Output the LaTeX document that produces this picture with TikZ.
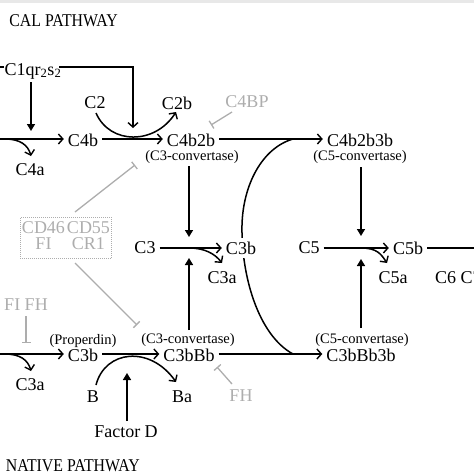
\documentclass[tikz,border=0pt]{standalone}
\usepackage{fontspec}
\setmainfont{Liberation Serif}
\usetikzlibrary{arrows.meta}
\definecolor{inh}{HTML}{ADADAD}
\tikzset{
  lbl/.style={font=\fontsize{18}{19}\selectfont, inner xsep=4pt, inner ysep=0.5pt},
  glbl/.style={lbl, text=inh},
  small/.style={font=\fontsize{14.5}{16}\selectfont, inner sep=0pt},
  head/.style={font=\fontsize{18}{20}\selectfont, inner sep=0pt},
  ln/.style={line width=1.5pt},
  barb/.style={ln, -{Straight Barb[length=4.5pt,width=10pt,line width=1.4pt]}},
  tri/.style={ln, -{Triangle[length=7pt,width=8pt]}},
  blocker/.style={draw=inh, line width=1.3pt, -{Bar[width=9pt,line width=1.3pt]}},
}
\begin{document}
\begin{tikzpicture}[x=1pt,y=-1pt]
\useasboundingbox (0,0) rectangle (474,474);
\fill[black!9] (0,0) rectangle (474,2.5);

% big arc (drawn first so that C3b covers it)
\coordinate (arcT) at (293,139);
\coordinate (arcM) at (242,225);
\coordinate (arcB) at (293,354);
\draw[ln] (arcT) .. controls (262,148) and (243,185) .. (arcM)
           .. controls (241,275) and (258,335) .. (arcB);

% headings
\node[head, anchor=base east] (hcl) at (118,26) {\scalebox{0.88}[1]{CAL PATHWAY}};
\node[head, anchor=base east] (halt) at (140,471) {\scalebox{0.88}[1]{NATIVE PATHWAY}};

% ---------- row 1 ----------
\node[lbl, inner xsep=0pt] (c1q) at (33,71) {C1qr\textsubscript{2}s\textsubscript{2}};
\node[lbl] (c4b) at (83,140) {C4b};
\node[lbl] (c4a) at (30,170) {C4a};
\node[lbl] (c2) at (95,103) {C2};
\node[lbl] (c2b) at (177,103) {C2b};
\node[lbl, inner ysep=0pt] (c4b2b) at (191,140) {C4b2b};
\node[small] (conv1) at (192,157.5) {(C3-convertase)};
\node[glbl] (c4bp) at (247,102) {C4BP};
\node[lbl, inner ysep=0pt] (c4b2b3b) at (360,140) {C4b2b3b};
\node[small] (conv2) at (360,157.5) {(C5-convertase)};

\coordinate (stubA) at (-2,67);
\coordinate (stubB) at (3.5,67);
\draw[ln] (stubA) -- (stubB);
\coordinate (c1qR) at (59,67);
\coordinate (tipA) at (133,128);
\draw[barb] (c1qR) -| (tipA);
\coordinate (c1qD) at (31,82);
\coordinate (tipB) at (31,131);
\draw[tri] (c1qD) -- (tipB);

\coordinate (r1L) at (-2,139);
\draw[barb] (r1L) -- (c4b.west |- r1L);
\coordinate (r1s) at (5,139);
\coordinate (r1t) at (31,156);
\draw[barb] (r1s) .. controls (20,139) and (28,145) .. (r1t);

\coordinate (c2s) at (96,113);
\coordinate (c2t) at (176,112);
\draw[barb] (c2s) .. controls (110,145) and (155,145) .. (c2t);
\draw[barb] (c4b.east |- r1L) -- (c4b2b.west |- r1L);
\coordinate (c4bpA) at (232,112);
\coordinate (c4bpB) at (211,125);
\draw[blocker] (c4bpA) -- (c4bpB);
\draw[barb] (c4b2b.east |- r1L) -- (c4b2b3b.west |- r1L);

% ---------- row 2 ----------
\node[lbl] (c3) at (145,248) {C3};
\node[lbl, fill=white, inner ysep=4pt] (c3b) at (241,248) {C3b};
\node[lbl] (c3a) at (222,278) {C3a};
\node[lbl] (c5) at (309,248) {C5};
\node[lbl] (c5b) at (408,248) {C5b};
\node[lbl] (c5a) at (393,278) {C5a};
\node[lbl, anchor=west, inner xsep=0pt] (c6) at (435,278) {C6 C7};

\coordinate (r2) at (0,248);
\draw[barb] (c3.east |- r2) -- (c3b.west |- r2);
\coordinate (j3) at (189,248);
\coordinate (c3at) at (222,263);
\draw[barb] (j3) .. controls (205,248) and (215,254) .. (c3at);
\draw[barb] (c5.east |- r2) -- (c5b.west |- r2);
\coordinate (j5) at (361,248);
\coordinate (c5at) at (387,263);
\draw[barb] (j5) .. controls (377,248) and (381,254) .. (c5at);
\coordinate (r2R) at (480,248);
\draw[ln] (c5b.east |- r2) -- (r2R);

\coordinate (v3a) at (189,166);
\coordinate (v3b) at (189,237);
\draw[tri] (v3a) -- (v3b);
\coordinate (v3c) at (189,330);
\coordinate (v3d) at (189,258);
\draw[tri] (v3c) -- (v3d);
\coordinate (v5a) at (361,167);
\coordinate (v5b) at (361,236);
\draw[tri] (v5a) -- (v5b);
\coordinate (v5c) at (361,328);
\coordinate (v5d) at (361,259);
\draw[tri] (v5c) -- (v5d);

% regulators box
\node[draw=inh, densely dotted, line width=1pt, text=inh, inner sep=1.5pt,
      font=\fontsize{18}{15}\selectfont, minimum width=91pt, minimum height=41pt]
  (reg) at (66,238) {\begin{tabular}{@{}c@{\hspace{2pt}}c@{}}CD46&CD55\\FI&CR1\end{tabular}};
\coordinate (regT) at (75,212);
\coordinate (regTt) at (135,165);
\draw[blocker] (regT) -- (regTt);
\coordinate (regB) at (75,263);
\coordinate (regBt) at (137,325);
\draw[blocker] (regB) -- (regBt);

% ---------- row 3 ----------
\node[glbl] (fifh) at (26,305) {FI FH};
\node[lbl] (c3bL) at (83,355) {C3b};
\node[small] (prop) at (83,341) {(Properdin)};
\node[lbl] (c3aL) at (30,385) {C3a};
\node[lbl] (c3bbb) at (189,355) {C3bBb};
\node[small] (conv3) at (188,340) {(C3-convertase)};
\node[lbl] (bnode) at (93,397) {B};
\node[lbl] (ba) at (182,397) {Ba};
\node[lbl] (fd) at (126,432) {Factor D};
\node[lbl] (c3bbb3b) at (361,355) {C3bBb3b};
\node[small] (conv4) at (362,340) {(C5-convertase)};
\node[glbl] (fh) at (241,396) {FH};

\coordinate (r3L) at (-2,354);
\draw[barb] (r3L) -- (c3bL.west |- r3L);
\coordinate (r3s) at (5,354);
\coordinate (r3t) at (31,371);
\draw[barb] (r3s) .. controls (20,354) and (28,360) .. (r3t);
\coordinate (fifhA) at (26,316);
\coordinate (fifhB) at (26,343);
\draw[blocker] (fifhA) -- (fifhB);
\draw[barb] (c3bL.east |- r3L) -- (c3bbb.west |- r3L);
\coordinate (bs) at (96,385);
\coordinate (bt) at (176,382);
\draw[barb] (bs) .. controls (105,350) and (150,345) .. (bt);
\coordinate (fdA) at (127,421);
\coordinate (fdB) at (127,373);
\draw[tri] (fdA) -- (fdB);
\draw[barb] (c3bbb.east |- r3L) -- (c3bbb3b.west |- r3L);
\coordinate (fhA) at (232,384);
\coordinate (fhB) at (217,367);
\draw[blocker] (fhA) -- (fhB);
\end{tikzpicture}
\end{document}
